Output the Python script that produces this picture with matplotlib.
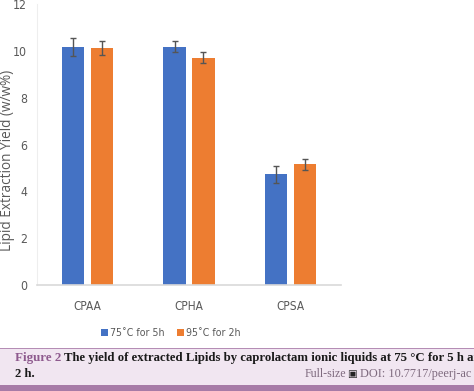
import matplotlib
matplotlib.use("Agg")
import matplotlib.pyplot as plt
from matplotlib.patches import Rectangle
import numpy as np

categories = ["CPAA", "CPHA", "CPSA"]
series_names = ["75˚C for 5h", "95˚C for 2h"]
vals_75 = [10.17, 10.19, 4.74]
err_75 = [0.40, 0.23, 0.36]
vals_95 = [10.14, 9.72, 5.16]
err_95 = [0.29, 0.22, 0.24]
yticks = [0, 2, 4, 6, 8, 10, 12]

W, H = 474, 391
fig = plt.figure(figsize=(W / 100, H / 100), dpi=100)
ax = fig.add_axes([37 / W, 1 - 285 / H, (341 - 37) / W, (285 - 4.2) / H])

cf = dict(family="DejaVu Sans", stretch="condensed", size=7.6)

x = np.arange(len(categories))
off, bw = 0.143, 0.22
ekw = dict(ecolor="#555555", elinewidth=1.0, capsize=2.5, capthick=1.0)
ax.bar(x - off, vals_75, bw, yerr=err_75, color="#4472C4", label=series_names[0],
       error_kw=ekw, zorder=2)
ax.bar(x + off, vals_95, bw, yerr=err_95, color="#ED7D31", label=series_names[1],
       error_kw=ekw, zorder=2)

ax.set_xlim(-0.5, 2.5)
ax.set_ylim(0, 12)
ax.set_yticks(yticks)
ax.set_xticks(x)
ax.set_xticklabels(categories, fontfamily="DejaVu Sans", fontstretch="condensed",
                   fontsize=8.5, color="#595959")
ax.set_yticklabels([str(t) for t in yticks], fontfamily="DejaVu Sans", fontstretch="condensed",
                   fontsize=8.8, color="#595959")
ax.tick_params(axis="y", length=0, pad=7)
ax.tick_params(axis="x", length=0, pad=11)
for s in ["top", "right"]:
    ax.spines[s].set_visible(False)
ax.spines["bottom"].set_color("#D9D9D9")
ax.spines["bottom"].set_linewidth(1.2)
ax.spines["left"].set_color("#EEEEEE")
ax.spines["left"].set_linewidth(0.8)
ax.set_ylabel("Lipid Extraction Yield (w/w%)", fontfamily="Open Sans", fontsize=9.8,
              color="#595959")
ax.yaxis.set_label_coords(-22 / 304, 0.445)

leg = fig.legend(loc="center", bbox_to_anchor=(171 / W, 1 - 333 / H), ncol=2,
                 frameon=False, prop=cf,
                 handlelength=0.6, handleheight=0.6, handletextpad=0.25,
                 columnspacing=1.2)
for t in leg.get_texts():
    t.set_color("#595959")

# caption panel
fig.patches.append(Rectangle((0, 1 - 388 / H), 1, (388 - 348) / H, transform=fig.transFigure,
                             facecolor="#F1E6F1", edgecolor="none", zorder=0))
fig.patches.append(Rectangle((0, 1 - 349 / H), 1, 1.2 / H, transform=fig.transFigure,
                             facecolor="#B58DB5", edgecolor="none", zorder=1))
fig.patches.append(Rectangle((0, 0), 1, (391 - 385) / H, transform=fig.transFigure,
                             facecolor="#A77BA7", edgecolor="none", zorder=1))

serif = "Liberation Serif"
fs = 9.2
fig.text(15 / W, 1 - 358 / H, "Figure 2", fontfamily=serif, fontsize=fs + 0.2,
         fontweight="bold", color="#8E5A8E", va="center")
fig.text(64 / W, 1 - 358 / H,
         "The yield of extracted Lipids by caprolactam ionic liquids at 75 °C for 5 h and",
         fontfamily=serif, fontsize=fs, fontweight="bold", color="#1A1A1A", va="center")
fig.text(15 / W, 1 - 374 / H, "2 h.", fontfamily=serif, fontsize=fs,
         fontweight="bold", color="#1A1A1A", va="center")
fig.text(305 / W, 1 - 374 / H, "Full-size", fontfamily=serif, fontsize=8.6,
         color="#7E6A7E", va="center")
fig.text(347 / W, 1 - 374 / H, "▣", fontfamily="DejaVu Sans", fontsize=7.5,
         color="#222222", va="center")
fig.text(360 / W, 1 - 374 / H, "DOI: 10.7717/peerj-ac", fontfamily=serif,
         fontsize=8.8, color="#7E6A7E", va="center")

fig.savefig("out.png", dpi=100)
